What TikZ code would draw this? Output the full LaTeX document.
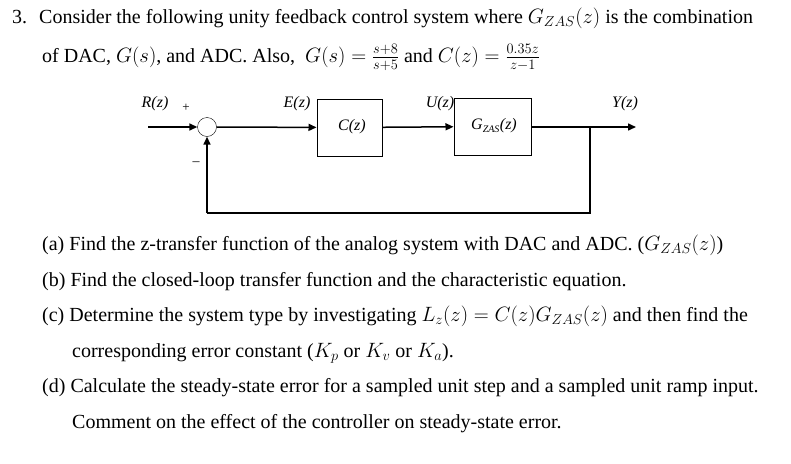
\documentclass[tikz,border=0pt]{standalone}
\usepackage{fontspec}
\setmainfont{Liberation Serif}
\usetikzlibrary{arrows.meta}
\begin{document}
\begin{tikzpicture}[x=1pt,y=-1pt,
  txt/.style={anchor=base west,inner sep=0pt,font=\fontsize{20}{22}\selectfont},
  lab/.style={inner sep=0pt,font=\fontsize{16}{18}\selectfont\itshape},
  blk/.style={draw,line width=1pt,inner sep=0pt},
  sig/.style={line width=1.5pt,-{Triangle[length=8pt,width=7pt]}},
  ln/.style={line width=1.5pt}]
\useasboundingbox (0,0) rectangle (791,463);
\node[txt] (l1) at (12,23) {3.\hspace{12pt}Consider the following unity feedback control system where $G_{ZAS}(z)$ is the combination};
\node[txt] (l2) at (42,62) {of DAC, $G(s)$, and ADC. Also,\ \ $G(s)=\frac{s+8}{s+5}$ and $C(z)=\frac{0.35z}{z-1}$};
\node[txt] (a) at (42,250) {(a) Find the z-transfer function of the analog system with DAC and ADC. ($G_{ZAS}(z)$)};
\node[txt] (b) at (42,286) {(b) Find the closed-loop transfer function and the characteristic equation.};
\node[txt] (c) at (42,321) {(c) Determine the system type by investigating $L_z(z)=C(z)G_{ZAS}(z)$ and then find the};
\node[txt] (c2) at (72,357) {corresponding error constant ($K_p$ or $K_v$ or $K_a$).};
\node[txt] (d) at (42,392) {(d) Calculate the steady-state error for a sampled unit step and a sampled unit ramp input.};
\node[txt] (d2) at (72,428) {Comment on the effect of the controller on steady-state error.};
% diagram
\node[draw,circle,minimum size=19pt,inner sep=0pt] (sum) at (207,127) {};
\node[blk,minimum width=65pt,minimum height=57pt] (C) at (349.5,127.5) {};
\node[lab] at (352,127) {C(z)};
\node[blk,minimum width=77pt,minimum height=57pt] (G) at (492.5,126.5) {};
\node[lab] at (494,126) {G\textsubscript{\fontsize{10}{11}\selectfont ZAS}(z)};
\coordinate (in) at (148,127);
\coordinate (out) at (636,127);
\coordinate (br) at (590,127);
\coordinate (bb) at (590,213);
\coordinate (sb) at (207,213);
\draw[sig] (in) -- (sum);
\draw[sig] (sum) -- (C);
\draw[sig] (C) -- (G);
\draw[sig] (G.east|-out) -- (out);
\draw[ln] (br) -- (bb) -- (sb);
\draw[sig] (sb) -- (sum);
\node[lab] (R) at (155,104) {R(z)};
\node[lab] (E) at (297,104) {E(z)};
\node[lab] (U) at (440,104) {U(z)};
\node[lab] (Y) at (625,104) {Y(z)};
\node[inner sep=0pt,font=\fontsize{13}{14}\selectfont] (p) at (186,108) {+};
\node[inner sep=0pt,font=\fontsize{14}{14}\selectfont] (m) at (196,164) {\textendash};
\end{tikzpicture}
\end{document}
